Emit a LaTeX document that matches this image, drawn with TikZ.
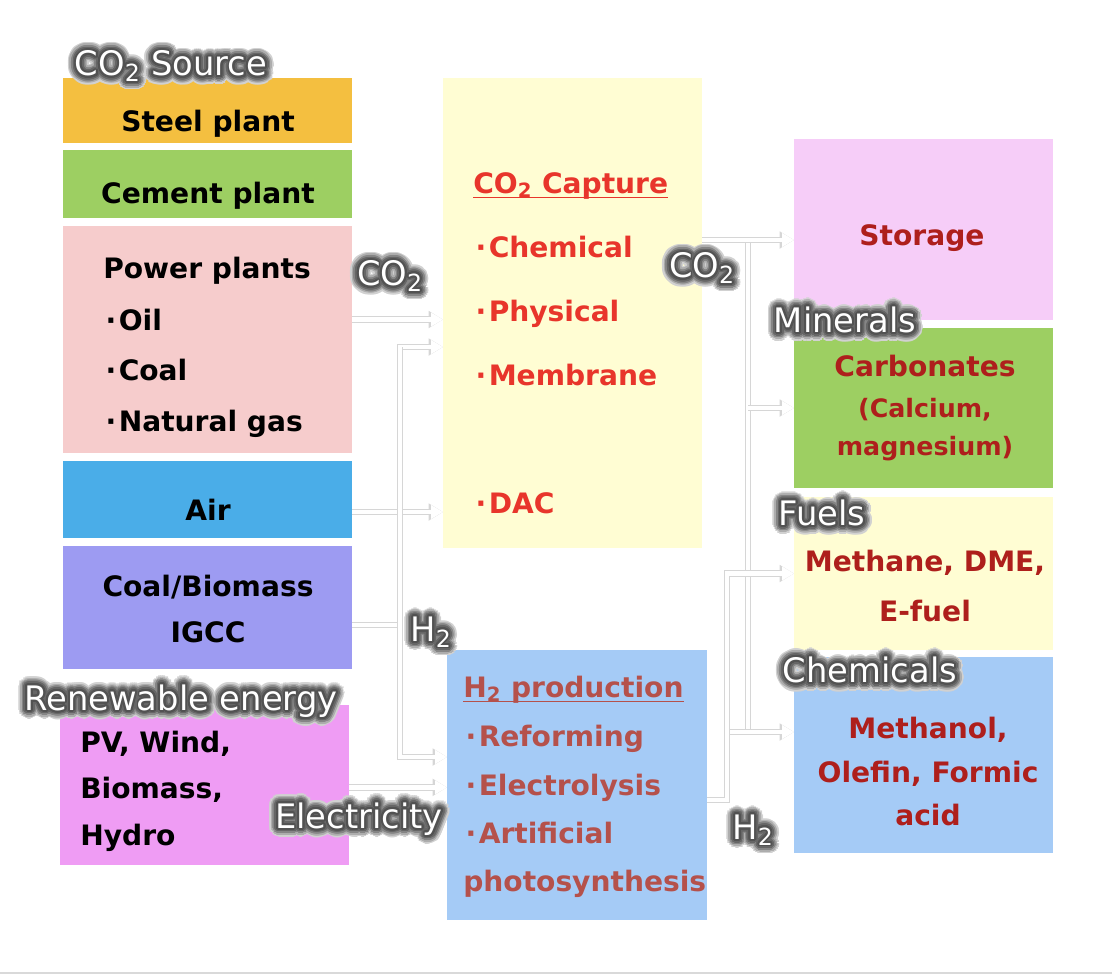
\documentclass[tikz,border=0pt]{standalone}
\usepackage{fontspec}
\setmainfont{DejaVu Sans}
\usepackage{tikz}
\usetikzlibrary{arrows.meta,fit}
\definecolor{steelc}{HTML}{F4BF40}
\definecolor{greenc}{HTML}{9DCF62}
\definecolor{pinkc}{HTML}{F6CCCC}
\definecolor{airc}{HTML}{4AADE8}
\definecolor{violc}{HTML}{9D9BF2}
\definecolor{magc}{HTML}{EF9CF4}
\definecolor{yelc}{HTML}{FFFDD3}
\definecolor{bluec}{HTML}{A5CBF6}
\definecolor{lilac}{HTML}{F6CDF8}
\definecolor{capred}{HTML}{E8352B}
\definecolor{h2red}{HTML}{B5514B}
\definecolor{darkred}{HTML}{AE1F1C}
\newcommand\dotb{\makebox[0.55em][c]{·}}
% thick underline in the text colour
\newcommand\uln[1]{\setbox0\hbox{#1}\rlap{\rule[-3.8pt]{\wd0}{1.3pt}}\box0}
% white label with a dark halo
\newcommand\glow[1]{%
  \foreach \gr/\gc in {6.2/18,5/32,3.8/48,2.6/60,1.3/68}{%
    \foreach \ang in {0,15,...,345}{%
      \pgfmathsetmacro\gx{\gr*cos(\ang)}\pgfmathsetmacro\gy{\gr*sin(\ang)}%
      \rlap{\hspace*{\gx pt}\raisebox{\gy pt}{\color{black!\gc}#1}}}}%
  \rlap{\color{black!70}#1}%
  {\color{white}#1}}

\begin{document}
\begin{tikzpicture}[x=0.25mm,y=-0.25mm,
  box/.style={inner sep=0pt,outer sep=0pt,draw=none},
  txt/.style={inner sep=0pt,anchor=base,font=\bfseries\fontsize{20}{24}\selectfont},
  ltxt/.style={txt,anchor=base west},
  small/.style={font=\bfseries\fontsize{18}{22}\selectfont},
  tag/.style={inner sep=0pt,font=\fontsize{24}{28}\selectfont},
  pipe/.style={draw=white,line width=1.1mm,preaction={draw=black!16,line width=1.7mm}},
  flow/.style={draw=white,line width=1.1mm,-{Triangle[length=3mm,width=3.3mm]},
    preaction={draw=black!16,line width=1.7mm,-{Triangle[length=3.6mm,width=4.1mm]}}},
]
\useasboundingbox (0,0) rectangle (1112,976);
% sources
\node[box,fill=steelc,fit={(63,78) (352,143)}] (steel) {};
\node[box,fill=greenc,fit={(63,150) (352,218)}] (cement) {};
\node[box,fill=pinkc,fit={(63,226) (352,453)}] (power) {};
\node[box,fill=airc,fit={(63,461) (352,538)}] (air) {};
\node[box,fill=violc,fit={(63,546) (352,669)}] (igcc) {};
\node[box,fill=magc,fit={(60,705) (349,865)}] (ren) {};
\node[txt] (steeltxt) at (208,131) {Steel plant};
\node[txt] (cementtxt) at (208,203) {Cement plant};
\node[ltxt] (powertxt) at (103,278) {Power plants};
\node[ltxt] (oil) at (103,330) {\dotb Oil};
\node[ltxt] (coal) at (103,380) {\dotb Coal};
\node[ltxt] (gas) at (103,431) {\dotb Natural gas};
\node[txt] (airtxt) at (208,520) {Air};
\node[txt] (igcc1) at (208,596) {Coal/Biomass};
\node[txt] (igcc2) at (208,642) {IGCC};
\node[ltxt] (pv) at (80,752) {PV, Wind,};
\node[ltxt] (bio) at (80,798) {Biomass,};
\node[ltxt] (hydro) at (80,845) {Hydro};
% capture and hydrogen
\node[box,fill=yelc,fit={(443,78) (702,548)}] (capture) {};
\node[box,fill=bluec,fit={(447,650) (707,920)}] (h2p) {};
\node[ltxt,text=capred] (capttl) at (473,193) {\uln{CO\textsubscript{2} Capture}};
\node[ltxt,text=capred] (chemical) at (473,257) {\dotb Chemical};
\node[ltxt,text=capred] (physical) at (473,321) {\dotb Physical};
\node[ltxt,text=capred] (membrane) at (473,385) {\dotb Membrane};
\node[ltxt,text=capred] (dac) at (473,513) {\dotb DAC};
\node[ltxt,text=h2red] (h2ttl) at (463,697) {\uln{H\textsubscript{2} production}};
\node[ltxt,text=h2red] (reform) at (463,746) {\dotb Reforming};
\node[ltxt,text=h2red] (elec) at (463,795) {\dotb Electrolysis};
\node[ltxt,text=h2red] (artif) at (463,843) {\dotb Artificial};
\node[ltxt,text=h2red] (photo) at (463,891) {photosynthesis};
% products
\node[box,fill=lilac,fit={(794,139) (1053,320)}] (storage) {};
\node[box,fill=greenc,fit={(794,328) (1053,488)}] (carb) {};
\node[box,fill=yelc,fit={(794,497) (1053,650)}] (fuels) {};
\node[box,fill=bluec,fit={(794,657) (1053,853)}] (chem) {};
\node[txt,text=darkred] (storetxt) at (922,245) {Storage};
\node[txt,text=darkred] (carb1) at (925,376) {Carbonates};
\node[txt,small,text=darkred] (carb2) at (925,417) {(Calcium,};
\node[txt,small,text=darkred] (carb3) at (925,455) {magnesium)};
\node[txt,text=darkred] (fuel1) at (925,571) {Methane, DME,};
\node[txt,text=darkred] (fuel2) at (925,621) {E-fuel};
\node[txt,text=darkred] (chem1) at (928,738) {Methanol,};
\node[txt,text=darkred] (chem2) at (928,782) {Olefin, Formic};
\node[txt,text=darkred] (chem3) at (928,825) {acid};
% junctions
\coordinate (lvair) at (400,512);
\coordinate (jigcc) at (400,625);
\coordinate (jtop) at (400,347);
\coordinate (jbot) at (400,757);
\coordinate (co2top) at (748,240);
\coordinate (co2bot) at (748,732);
\coordinate (h2corner) at (727,800);
% connectors
\draw[flow] (power.east |- oil) -- (capture.west |- oil);
\draw[flow] (air.east |- lvair) -- (capture.west |- lvair);
\draw[pipe] (igcc.east |- jigcc) -- (jigcc);
\draw[flow] (jbot) -- (jtop) -- (capture.west |- jtop);
\draw[flow] (jtop) -- (jbot) -- (h2p.west |- jbot);
\draw[flow] (ren.east |- elec) -- (h2p.west |- elec);
\draw[pipe] (co2top) -- (co2bot);
\draw[flow] (capture.east |- co2top) -- (storage.west |- co2top);
\draw[flow] (co2top |- carb) -- (carb.west);
\draw[flow] (h2corner |- co2bot) -- (chem.west |- co2bot);
\draw[flow] (h2p.east |- h2corner) -- (h2corner) -- (h2corner |- fuels) -- (fuels.west);
% labels
\node[tag] (lbsrc) at (171,66) {\glow{CO\textsubscript{2} Source}};
\node[tag] (lbco2a) at (390,276) {\glow{CO\textsubscript{2}}};
\node[tag] (lbco2b) at (702,268) {\glow{CO\textsubscript{2}}};
\node[tag] (lbmin) at (845,320) {\glow{Minerals}};
\node[tag] (lbfuel) at (822,513) {\glow{Fuels}};
\node[tag] (lbchem) at (870,670) {\glow{Chemicals}};
\node[tag] (lbh2a) at (431,632) {\glow{H\textsubscript{2}}};
\node[tag] (lbren) at (181,701) {\glow{Renewable energy}};
\node[tag] (lbelec) at (359,819) {\glow{Electricity}};
\node[tag] (lbh2b) at (753,830) {\glow{H\textsubscript{2}}};
\draw[black!15,line width=0.5mm] (0,973) -- (1112,973);
\end{tikzpicture}
\end{document}
